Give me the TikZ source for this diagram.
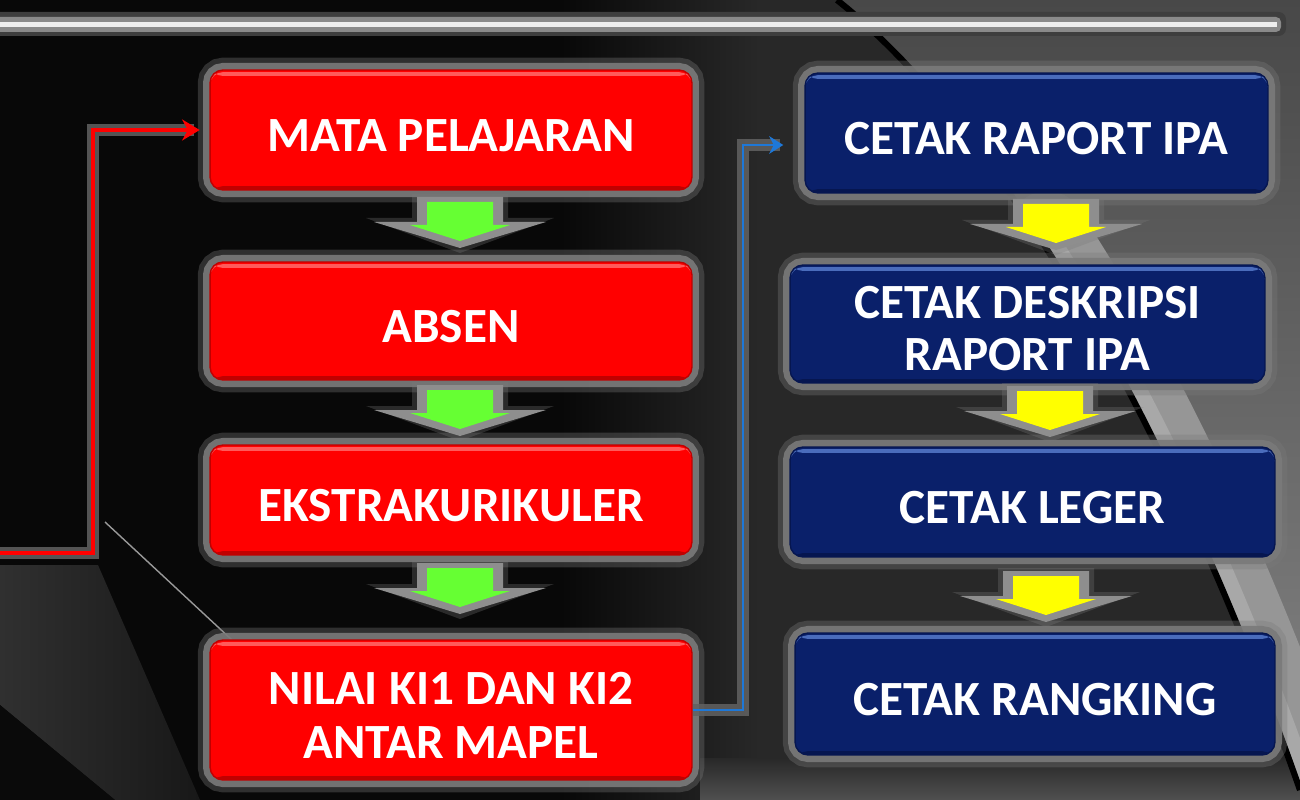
\documentclass[tikz,border=0pt]{standalone}
\usepackage{fontspec}
\setmainfont{Carlito}
\usetikzlibrary{arrows.meta,calc}
\definecolor{bgblack}{HTML}{080808}
\definecolor{bgmid}{HTML}{282828}
\definecolor{swooshlt}{HTML}{A8A8A8}
\definecolor{swooshdk}{HTML}{505050}
\definecolor{bandgray}{HTML}{303030}
\definecolor{boxred}{HTML}{FF0000}
\definecolor{redhl}{HTML}{FF5A5A}
\definecolor{reddk}{HTML}{C00000}
\definecolor{boxblue}{HTML}{0A206A}
\definecolor{bluehl}{HTML}{4A6CBC}
\definecolor{bluedk}{HTML}{061650}
\definecolor{glowc}{HTML}{7A7A7A}
\definecolor{arredge}{HTML}{8E8E8E}
\definecolor{arrgreen}{HTML}{66FF33}
\definecolor{arryellow}{HTML}{FFFF00}
\definecolor{lineblue}{HTML}{1E78D8}
\definecolor{barouter}{HTML}{3E3E3E}
\definecolor{barmid}{HTML}{8A8A8A}
\definecolor{barwhite}{HTML}{EEEEEE}
\newcommand\lowtxt[1]{\raisebox{-6pt}[\height][\depth]{\begin{tabular}{@{}c@{}}#1\end{tabular}}}
\tikzset{
  flowbox/.style={rectangle, rounded corners=0.26cm, inner sep=0pt, align=center,
    text=white, font=\bfseries\fontsize{28}{31}\selectfont,
    preaction={draw=glowc, line width=14pt, opacity=0.35},
    preaction={draw=glowc, line width=8pt, opacity=0.9}},
  redbox/.style={flowbox, fill=boxred, draw=reddk, line width=0.8pt,
    path picture={\fill[redhl] ([yshift=-1.2pt]path picture bounding box.north west) rectangle ([yshift=-3.4pt]path picture bounding box.north east);
                  \fill[reddk] ([yshift=2.2pt]path picture bounding box.south west) rectangle (path picture bounding box.south east);}},
  bluebox/.style={flowbox, fill=boxblue, draw=bluedk, line width=0.8pt,
    path picture={\fill[bluehl] ([yshift=-1.2pt]path picture bounding box.north west) rectangle ([yshift=-3.4pt]path picture bounding box.north east);
                  \fill[bluedk] ([yshift=2.2pt]path picture bounding box.south west) rectangle (path picture bounding box.south east);}},
  conglow/.style={draw=glowc!80!black, line width=7pt, opacity=0.85},
  redconn/.style={draw=boxred, line width=1.9pt, -{Stealth[length=10pt,width=12pt]}, shorten >=5.5pt},
  blueconn/.style={draw=lineblue, line width=1.4pt, -{Stealth[length=8pt,width=10pt]}, shorten >=12pt},
  pics/blockarr/.style={code={
    \fill[glowc, opacity=0.3] (-48,-28) -- (48,-28) -- (48,-4) -- (94,-4) -- (0,31) -- (-94,-4) -- (-48,-4) -- cycle;
    \fill[arredge] (-43,-25) -- (43,-25) -- (43,0) -- (86,0) -- (0,26) -- (-86,0) -- (-43,0) -- cycle;
    \fill[#1] (-33,-20) -- (33,-20) -- (33,3) -- (50,3) -- (0,19) -- (-50,3) -- (-33,3) -- cycle;
  }}
}
\begin{document}
\begin{tikzpicture}[x=0.02cm,y=-0.02cm]
\useasboundingbox (0,0) rectangle (1300,800);
% background
\fill[bgblack] (0,0) rectangle (1300,800);
\shade[left color=bgblack, right color=bgmid] (560,0) rectangle (760,800);
\fill[bgmid] (760,0) rectangle (1300,800);
\shade[top color=bgmid, bottom color=swooshdk] (700,758) rectangle (1300,800);
\begin{scope}
  \clip (837,0) .. controls (1000,130) and (1170,420) .. (1300,790) -- (1300,0) -- cycle;
  \shade[top color=swooshdk!80!bgmid, bottom color=swooshdk!70!white] (800,0) rectangle (1300,800);
  \draw[swooshlt!80!swooshdk, line width=42pt, line cap=round] ([xshift=8pt]1033,228) .. controls ([xshift=8pt]1130,375) and ([xshift=8pt]1222,568) .. ([xshift=8pt]1300,790);
  \draw[swooshlt, line width=20pt, line cap=round] (1033,228) .. controls (1130,375) and (1222,568) .. (1300,790);
\end{scope}
\draw[black, line width=3.5pt] (837,0) .. controls (1000,130) and (1170,420) .. (1300,790);
\shade[left color=bandgray, right color=bgblack!60!bandgray]
  (0,565) -- (98,565) -- (200,800) -- (115,800) -- (0,705) -- cycle;
\fill[black!80!bandgray] (0,705) -- (115,800) -- (0,800) -- cycle;
\draw[gray!80!white, line width=0.8pt] (105,522) -- (232,640);
% top bar
\fill[barouter, rounded corners=0.15cm] (-20,12) rectangle (1286,36);
\fill[barmid, rounded corners=0.1cm] (-20,17) rectangle (1281,32);
\fill[barwhite] (-20,22.5) rectangle (1277,27);
% boxes
\node[redbox, minimum width=9.64cm, minimum height=2.4cm] (mp) at (451,130) {\lowtxt{MATA PELAJARAN}};
\node[redbox, minimum width=9.64cm, minimum height=2.36cm] (ab) at (451,321) {\lowtxt{ABSEN}};
\node[redbox, minimum width=9.64cm, minimum height=2.2cm] (ek) at (451,500) {\lowtxt{EKSTRAKURIKULER}};
\node[redbox, minimum width=9.64cm, minimum height=2.8cm] (ni) at (451,710) {\lowtxt{NILAI KI1 DAN KI2\\ANTAR MAPEL}};
\node[bluebox, minimum width=9.26cm, minimum height=2.4cm] (cr) at (1036.5,133) {\lowtxt{CETAK RAPORT IPA}};
\node[bluebox, minimum width=9.5cm, minimum height=2.36cm, font=\bfseries\fontsize{28}{29.5}\selectfont] (cd) at (1027.5,324) {\lowtxt{CETAK DESKRIPSI\\RAPORT IPA}};
\node[bluebox, minimum width=9.7cm, minimum height=2.2cm] (cl) at (1032.5,502) {\lowtxt{CETAK LEGER}};
\node[bluebox, minimum width=9.6cm, minimum height=2.44cm] (ck) at (1035,694) {\lowtxt{CETAK RANGKING}};
% block arrows
\pic at (460,222) {blockarr=arrgreen};
\pic at (460,410) {blockarr=arrgreen};
\pic at (460,588) {blockarr=arrgreen};
\pic at (1056,224) {blockarr=arryellow};
\pic at (1050,411) {blockarr=arryellow};
\pic at (1046,596) {blockarr=arryellow};
% connectors
\coordinate (rs) at (-10,553);
\coordinate (rb) at (93,553);
\draw[conglow, shorten >=9pt] (rs) -- (rb) |- (mp.west);
\draw[redconn] (rs) -- (rb) |- (mp.west);
\coordinate (bt) at (743,145);
\draw[conglow, shorten >=14pt] (ni.east) -| (bt) -- (bt -| cr.west);
\draw[blueconn] (ni.east) -| (bt) -- (bt -| cr.west);
\end{tikzpicture}
\end{document}
